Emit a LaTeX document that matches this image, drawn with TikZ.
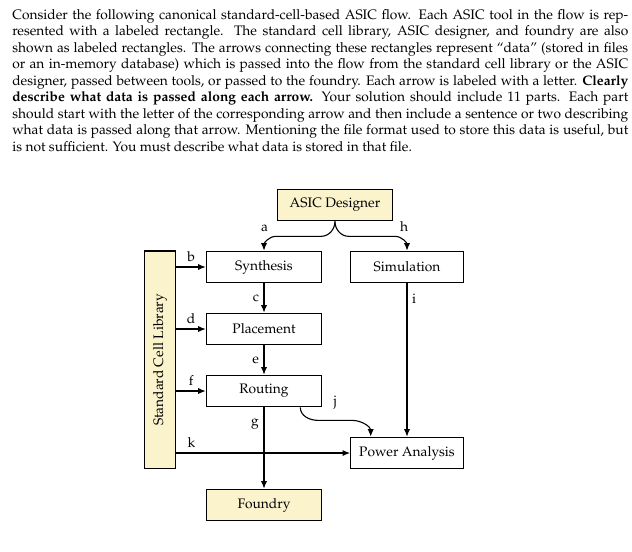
\documentclass[tikz,border=0pt]{standalone}
\usepackage[T1]{fontenc}
\usepackage{mathpazo}
\usepackage{tikz}
\usepackage{color}
\usetikzlibrary{positioning,arrows.meta}
\definecolor{padyellow}{RGB}{250,243,204}
\tikzset{
  tool/.style={
    draw,
    thick,
    minimum width=84pt,
    minimum height=23pt
  },
  party/.style={
    tool,
    fill=padyellow
  },
  flow/.style={
    thick,
    -{Latex[length=5.5pt,width=4.5pt]}
  }
}

\begin{document}
\begin{tikzpicture}[x=0.7273pt,y=-0.7273pt]
        \useasboundingbox (0,0) rectangle (632,551);
        \node [anchor=north west, inner sep=0pt, text width=448pt, align=justify] (Question) at (12,9) {%
          Consider the following canonical standard-cell-based ASIC flow. Each ASIC tool in the flow is rep-\linebreak
          resented with a labeled rectangle. The standard cell library, ASIC designer, and foundry are also\linebreak
          shown as labeled rectangles. The arrows connecting these rectangles represent ``data'' (stored in files\linebreak
          or an in-memory database) which is passed into the flow from the standard cell library or the ASIC\linebreak
          designer, passed between tools, or passed to the foundry. Each arrow is labeled with a letter. \textbf{Clearly}\linebreak
          \textbf{describe what data is passed along each arrow.} Your solution should include 11 parts. Each part\linebreak
          should start with the letter of the corresponding arrow and then include a sentence or two describing\linebreak
          what data is passed along that arrow. Mentioning the file format used to store this data is useful, but\linebreak
          is not sufficient. You must describe what data is stored in that file.};
        \node [tool] (Synth) at (264,267) {Synthesis};
        \node [tool, on grid, below=45.1pt of Synth] (Place) {Placement};
        \node [tool, on grid, below=45.1pt of Place] (Route) {Routing};
        \node [party, on grid, below=82.9pt of Route] (Foundry) {Foundry};
        \node [party, minimum width=0pt, inner xsep=9pt, on grid, above right=45.1pt and 51.6pt of Synth] (Designer) {ASIC Designer};
        \node [tool, minimum width=82pt, on grid, right=104pt of Synth] (Sim) {Simulation};
        \node [tool, minimum width=82pt, on grid, below=135.3pt of Sim] (Power) {Power Analysis};
        \node [party, rotate=90, minimum width=158.5pt, on grid, below left=67.6pt and 75.6pt of Synth] (Lib) {Standard Cell Library};
        % designer to synthesis and simulation
        \draw [flow] (Designer.south) to[out=-90,in=0] ++(-14,15) -- ++(-45,0) node[pos=1, above left=0pt, xshift=-2pt] {a} to[out=180,in=90] (Synth.north);
        \draw [flow] (Designer.south) to[out=-90,in=180] ++(14,15) -- ++(46,0) node[pos=1, above right=0pt] {h} to[out=0,in=90] (Sim.north);
        % library into the tools
        \draw [flow] (Lib.south |- Synth) -- (Synth) node[midway, above] {b};
        \draw [flow] (Lib.south |- Place) -- (Place) node[midway, above] {d};
        \draw [flow] (Lib.south |- Route) -- (Route) node[midway, above] {f};
        \draw [flow] (Lib.south |- Power) -- (Power) node[pos=0.086, above] {k};
        % down the flow
        \draw [flow] (Synth) -- (Place) node[midway, left] {c};
        \draw [flow] (Place) -- (Route) node[midway, left] {e};
        \draw [flow] (Route) -- (Foundry) node[pos=0.2, left] {g};
        \draw [flow] (Sim) -- (Power) node[pos=0.1, right] {i};
        \draw [flow] ([xshift=-16pt]Route.south east) to[out=-90,in=180] ++(18,13) -- ++(34,0) node[midway, above=4pt] {j} to[out=0,in=90] ([xshift=15pt]Power.north west);
      \end{tikzpicture}
\end{document}
